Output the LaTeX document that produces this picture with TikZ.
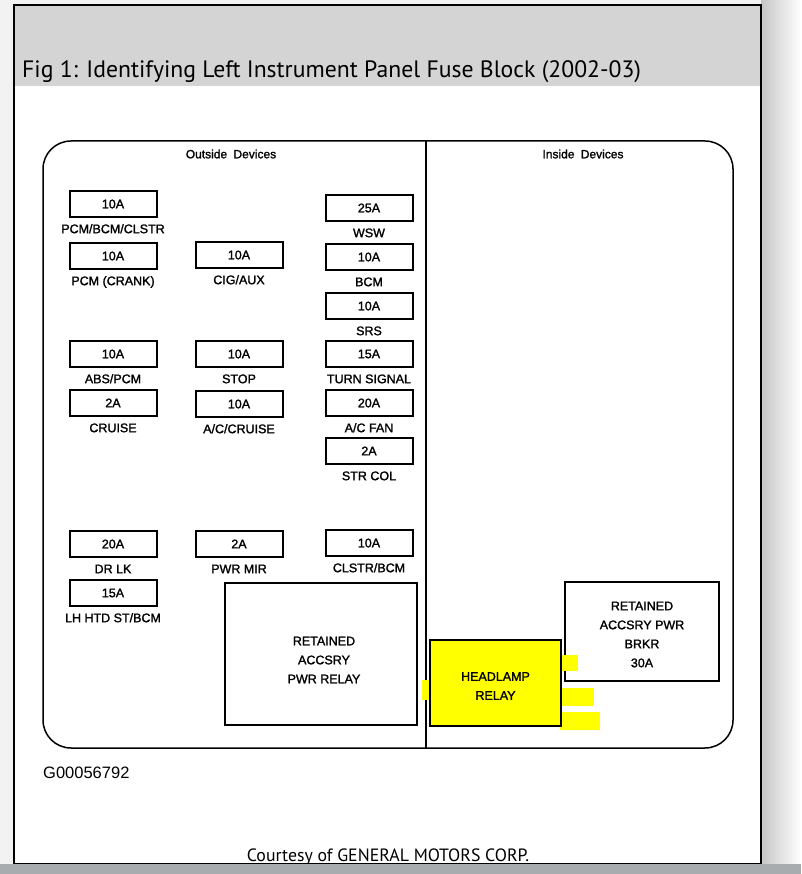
\documentclass[tikz,border=0pt]{standalone}
\usepackage{fontspec}
\setmainfont{Liberation Sans}
\newfontfamily\scanfont[FakeBold=1.5]{Liberation Sans}
\newfontfamily\pagefont{PT Sans}
\usetikzlibrary{positioning}

\definecolor{marker}{RGB}{255,255,0}
\definecolor{bandgray}{RGB}{212,212,212}
\definecolor{bottomgray}{RGB}{168,172,174}

\tikzset{
  fuse/.style={draw, line width=2pt, minimum width=87pt, minimum height=26pt,
    inner sep=0pt, font=\scanfont\fontsize{12.5}{14}\selectfont},
  fuselabel/.style={inner sep=0pt, text height=9pt, text depth=2pt,
    font=\scanfont\fontsize{12.5}{14}\selectfont},
  relaybox/.style={draw, line width=2pt, inner sep=0pt},
  relaytext/.style={inner sep=0pt, align=center, font=\scanfont\fontsize{12.5}{19}\selectfont},
}

\begin{document}
\begin{tikzpicture}[x=1pt, y=-1pt]
  \useasboundingbox (0,0) rectangle (801,874);
  % page and title band
  \fill[gray!10] (0,0) rectangle (801,874);
  \shade[left color=gray!45, right color=white] (761,0) rectangle (801,874);
  \fill[white] (14,5) rectangle (761,864);
  \fill[bandgray] (14,5) rectangle (761,86);
  \draw[line width=1.2pt] (14,5) rectangle (761,864);
  \node[anchor=base west, inner sep=0pt, font=\pagefont\fontsize{23.7}{26}\selectfont]
    (title) at (22,78) {Fig 1: Identifying Left Instrument Panel Fuse Block (2002-03)};

  % fuse block outline
  \draw[line width=1.5pt, rounded corners=28pt] (43,141) rectangle (733,748);
  \draw[line width=1.5pt] (426,141) -- (426,748);
  \node[font=\scanfont\fontsize{12}{14}\selectfont] (outside) at (231,154) {Outside\hspace{3pt} Devices};
  \node[font=\scanfont\fontsize{12}{14}\selectfont] (inside) at (583,154) {Inside\hspace{3pt} Devices};

  % fuses: name/x/y/rating/circuit
  \foreach \i/\cx/\cy/\amp/\name in {
      a/113/204/10A/{PCM/BCM/CLSTR}, b/113/256/10A/{PCM (CRANK)},
      c/113/354/10A/{ABS/PCM}, d/113/403/2A/{CRUISE},
      e/113/544/20A/{DR LK}, f/113/593/15A/{LH HTD ST/BCM},
      g/239/255/10A/{CIG/AUX}, h/239/354/10A/{STOP},
      i/239/404/10A/{A/C/CRUISE}, j/239/544/2A/{PWR MIR},
      k/369/208/25A/{WSW}, l/369/257/10A/{BCM},
      m/369/306/10A/{SRS}, n/369/354/15A/{TURN SIGNAL},
      o/369/403/20A/{A/C FAN}, p/369/451/2A/{STR COL},
      q/369/543/10A/{CLSTR/BCM}}{
    \node[fuse] (f\i) at (\cx,\cy) {\amp};
    \node[fuselabel, below=6pt of f\i] (l\i) {\name};
  }

  % relays and breaker
  \node[relaybox, minimum width=192pt, minimum height=142pt] (relay) at (321,654) {};
  \node[relaytext] (relaylbl) at ([xshift=3pt, yshift=-6pt]relay.center)
    {RETAINED\\ACCSRY\\PWR RELAY};
  \node[relaybox, minimum width=154pt, minimum height=99pt] (brkr) at (642,631.5) {};
  \node[relaytext] (brkrlbl) at ([yshift=-3pt]brkr.center)
    {RETAINED\\ACCSRY PWR\\BRKR\\30A};
  % highlighter marks
  \fill[marker] (422,680) rectangle (432,700);
  \fill[marker] (560,655) rectangle (578,671);
  \fill[marker] (560,688) rectangle (594,706);
  \fill[marker] (560,712) rectangle (600,730);
  \node[relaybox, fill=marker, minimum width=131pt, minimum height=86pt] (head) at (495.5,683) {};
  \node[relaytext] (headlbl) at ([yshift=-3pt]head.center) {HEADLAMP\\RELAY};

  \node[anchor=base west, inner sep=0pt, font=\fontsize{16.5}{18}\selectfont]
    (figid) at (43,778) {G00056792};
  \node[anchor=base, inner sep=0pt, font=\pagefont\fontsize{17.8}{20}\selectfont]
    (courtesy) at (388,861) {Courtesy of GENERAL MOTORS CORP.};
  \fill[bottomgray] (0,864) rectangle (801,874);
\end{tikzpicture}
\end{document}
